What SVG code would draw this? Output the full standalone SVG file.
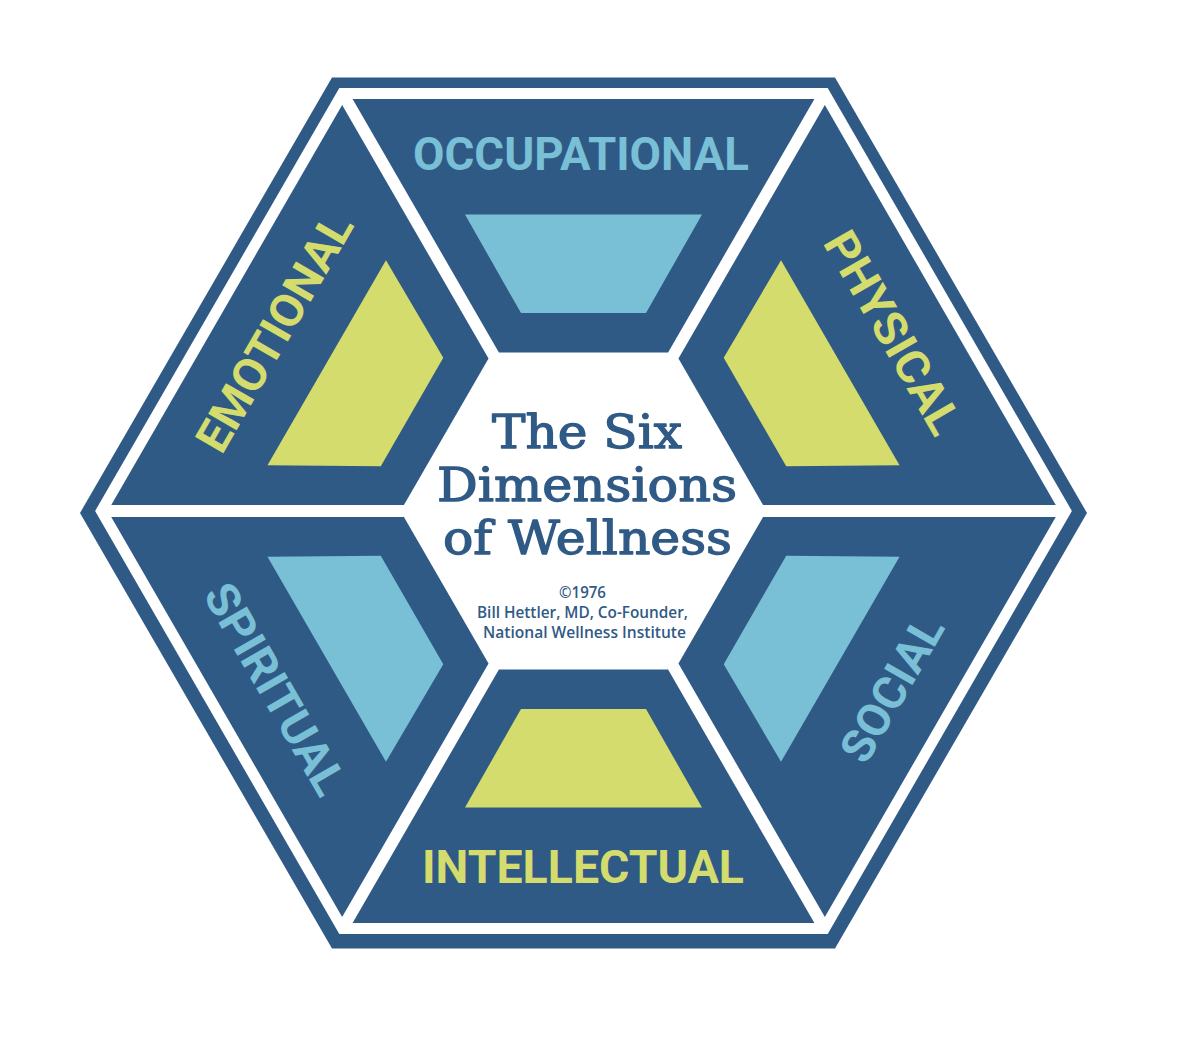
<svg xmlns="http://www.w3.org/2000/svg" xmlns:xlink="http://www.w3.org/1999/xlink" width="1202" height="1042" viewBox="0 0 1202 1042">
  <style>
    .dark { fill: #305a86; }
    .white { fill: #ffffff; }
    .blue { fill: #79bfd5; }
    .green { fill: #d4dc6e; }
    .label { font-family: Roboto, "Open Sans", "Liberation Sans", sans-serif; font-weight: 700; font-size: 46px; text-anchor: middle; }
    .title { font-family: "DejaVu Serif", "Liberation Serif", serif; font-size: 46px; fill: #305a86; stroke: #305a86; stroke-width: 1.3; stroke-linejoin: round; text-anchor: middle; }
    .small { font-family: "Open Sans", "Noto Sans", "Liberation Sans", sans-serif; font-size: 15.5px; font-weight: 600; fill: #305a86; text-anchor: middle; }
  </style>
  <defs>
    <polygon id="segment" points="352.6,99 814.4,99 668.1,352.5 498.9,352.5"/>
    <polygon id="inset" points="465,214.5 702,214.5 646,313 521,313"/>
  </defs>
  <rect width="1202" height="1042" fill="#ffffff"/>
  <g id="frame">
    <polygon class="dark" points="332,77.5 835,77.5 1087,513 835,948.5 332,948.5 80,513"/>
    <polygon class="white" points="339.3,88 827.7,88 1071.9,511 827.7,934 339.3,934 95.1,511"/>
  </g>
  <g id="occupational">
    <use xlink:href="#segment" class="dark"/>
    <use xlink:href="#inset" class="blue"/>
    <text class="label blue" x="581" y="170" textLength="336" lengthAdjust="spacingAndGlyphs">OCCUPATIONAL</text>
  </g>
  <g id="physical">
    <use xlink:href="#segment" class="dark" transform="rotate(60 583.5 511)"/>
    <use xlink:href="#inset" class="green" transform="rotate(60 583.5 511)"/>
    <text class="label green" x="583.5" y="170" textLength="226" lengthAdjust="spacingAndGlyphs" transform="rotate(60 583.5 511)">PHYSICAL</text>
  </g>
  <g id="social">
    <use xlink:href="#segment" class="dark" transform="rotate(120 583.5 511)"/>
    <use xlink:href="#inset" class="blue" transform="rotate(120 583.5 511)"/>
    <text class="label blue" x="583.5" y="883" textLength="160" lengthAdjust="spacingAndGlyphs" transform="rotate(-60 583.5 511)">SOCIAL</text>
  </g>
  <g id="intellectual">
    <use xlink:href="#segment" class="dark" transform="rotate(180 583.5 511)"/>
    <use xlink:href="#inset" class="green" transform="rotate(180 583.5 511)"/>
    <text class="label green" x="583" y="883" textLength="322" lengthAdjust="spacingAndGlyphs">INTELLECTUAL</text>
  </g>
  <g id="spiritual">
    <use xlink:href="#segment" class="dark" transform="rotate(240 583.5 511)"/>
    <use xlink:href="#inset" class="blue" transform="rotate(240 583.5 511)"/>
    <text class="label blue" x="583.5" y="883" textLength="236" lengthAdjust="spacingAndGlyphs" transform="rotate(60 583.5 511)">SPIRITUAL</text>
  </g>
  <g id="emotional">
    <use xlink:href="#segment" class="dark" transform="rotate(300 583.5 511)"/>
    <use xlink:href="#inset" class="green" transform="rotate(300 583.5 511)"/>
    <text class="label green" x="583.5" y="170" textLength="266" lengthAdjust="spacingAndGlyphs" transform="rotate(-60 583.5 511)">EMOTIONAL</text>
  </g>
  <g id="center">
    <text class="title" x="587" y="448" textLength="190" lengthAdjust="spacingAndGlyphs">The Six</text>
    <text class="title" x="587" y="501" textLength="300" lengthAdjust="spacingAndGlyphs">Dimensions</text>
    <text class="title" x="587.5" y="554" textLength="289" lengthAdjust="spacingAndGlyphs">of Wellness</text>
    <text class="small" x="582.5" y="598" textLength="47" lengthAdjust="spacingAndGlyphs">©1976</text>
    <text class="small" x="582.5" y="618" textLength="211" lengthAdjust="spacingAndGlyphs">Bill Hettler, MD, Co-Founder,</text>
    <text class="small" x="584.5" y="638" textLength="203" lengthAdjust="spacingAndGlyphs">National Wellness Institute</text>
  </g>
  <g id="connectors"/>
</svg>
